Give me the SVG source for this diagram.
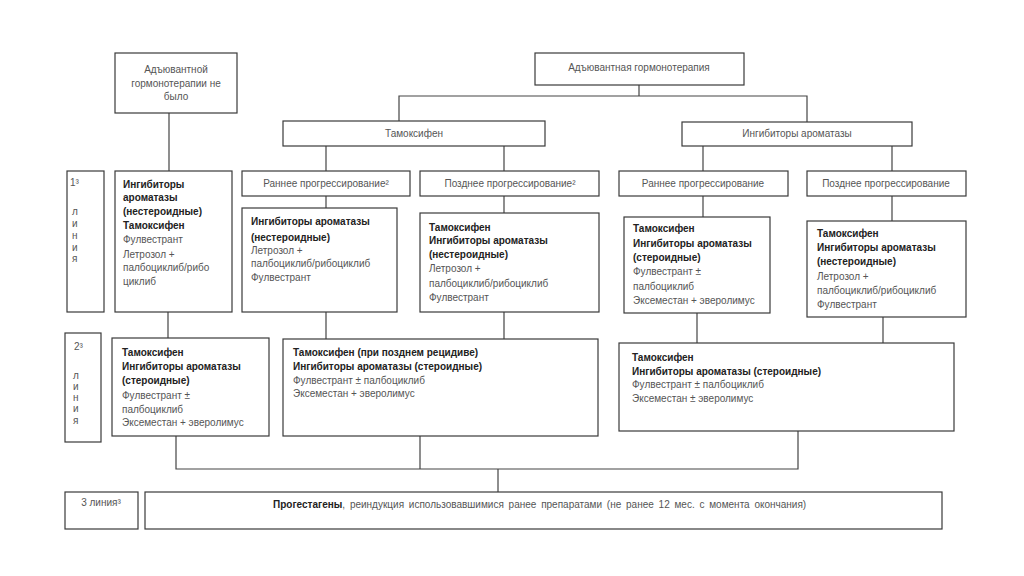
<svg xmlns="http://www.w3.org/2000/svg" width="1024" height="576" viewBox="0 0 1024 576">
<style>
.box{fill:#fff;stroke:#3a3a3a;stroke-width:1.2}
.c line,.c path{stroke:#444;stroke-width:1.2;fill:none}
text{font-family:"Liberation Sans",Arial,sans-serif;font-size:10px;fill:#555}
.b{font-weight:bold;fill:#222}
.m{text-anchor:middle}
</style>
<rect width="1024" height="576" fill="#fff"/>
<g class="c" id="connectors">
<line x1="169" y1="113" x2="169" y2="171"/>
<path d="M639 85V96M399 121V96H807V122"/>
<line x1="326" y1="146" x2="326" y2="171"/>
<line x1="504" y1="146" x2="504" y2="171"/>
<line x1="703" y1="146" x2="703" y2="171"/>
<line x1="892" y1="146" x2="892" y2="171"/>
<line x1="326" y1="196" x2="326" y2="208"/>
<line x1="504" y1="196" x2="504" y2="213"/>
<line x1="703" y1="196" x2="703" y2="217"/>
<line x1="892" y1="196" x2="892" y2="221"/>
<line x1="168" y1="312" x2="168" y2="338"/>
<line x1="326" y1="312" x2="326" y2="339"/>
<line x1="504" y1="312" x2="504" y2="339"/>
<line x1="697" y1="313" x2="697" y2="343"/>
<line x1="883" y1="317" x2="883" y2="343"/>
<path d="M176 436V469H798V431M420 436V469M498 469V492"/>
</g>
<g id="no-adjuvant"><rect class="box" x="115" y="53" width="122" height="60"/>
<text class="m" x="176" y="73">Адъювантной</text><text class="m" x="176" y="87">гормонотерапии не</text><text class="m" x="176" y="100">было</text></g>
<g id="adjuvant"><rect class="box" x="535" y="53" width="209" height="32"/><text class="m" x="639" y="71">Адъювантная гормонотерапия</text></g>
<g id="tamoxifen"><rect class="box" x="283" y="121" width="262" height="25"/><text class="m" x="414" y="137">Тамоксифен</text></g>
<g id="ai"><rect class="box" x="682" y="122" width="230" height="24"/><text class="m" x="797" y="137">Ингибиторы ароматазы</text></g>
<g id="line1-label"><rect class="box" x="67" y="171" width="37" height="141"/>
<text x="70" y="186">1³</text><text x="72" y="215">л</text><text x="72" y="227">и</text><text x="72" y="239">н</text><text x="72" y="251">и</text><text x="72" y="262">я</text></g>
<g id="t-early"><rect class="box" x="242" y="171" width="168" height="25"/><text class="m" x="326" y="187">Раннее прогрессирование²</text></g>
<g id="t-late"><rect class="box" x="420" y="171" width="179" height="25"/><text class="m" x="510" y="187">Позднее прогрессирование²</text></g>
<g id="ai-early"><rect class="box" x="619" y="171" width="169" height="25"/><text class="m" x="703" y="187">Раннее прогрессирование</text></g>
<g id="ai-late"><rect class="box" x="807" y="171" width="159" height="25"/><text class="m" x="886" y="187">Позднее прогрессирование</text></g>
<g id="n1-none"><rect class="box" x="115" y="171" width="117" height="141"/>
<text class="b" x="123" y="188">Ингибиторы</text><text class="b" x="123" y="201">ароматазы</text><text class="b" x="123" y="215">(нестероидные)</text><text class="b" x="123" y="229">Тамоксифен</text><text x="123" y="243">Фулвестрант</text><text x="123" y="258">Летрозол +</text><text x="123" y="271">палбоциклиб/рибо</text><text x="123" y="285">циклиб</text></g>
<g id="n1-t-early"><rect class="box" x="242" y="208" width="155" height="104"/>
<text class="b" x="251" y="225">Ингибиторы ароматазы</text><text class="b" x="251" y="241">(нестероидные)</text><text x="251" y="254">Летрозол +</text><text x="251" y="267">палбоциклиб/рибоциклиб</text><text x="251" y="281">Фулвестрант</text></g>
<g id="n1-t-late"><rect class="box" x="420" y="213" width="179" height="99"/>
<text class="b" x="429" y="231">Тамоксифен</text><text class="b" x="429" y="244">Ингибиторы ароматазы</text><text class="b" x="429" y="258">(нестероидные)</text><text x="429" y="272">Летрозол +</text><text x="429" y="287">палбоциклиб/рибоциклиб</text><text x="429" y="301">Фулвестрант</text></g>
<g id="n1-ai-early"><rect class="box" x="624" y="217" width="146" height="96"/>
<text class="b" x="633" y="232">Тамоксифен</text><text class="b" x="633" y="247">Ингибиторы ароматазы</text><text class="b" x="633" y="261">(стероидные)</text><text x="633" y="275">Фулвестрант  ±</text><text x="633" y="290">палбоциклиб</text><text x="633" y="304">Эксеместан + эверолимус</text></g>
<g id="n1-ai-late"><rect class="box" x="807" y="221" width="159" height="96"/>
<text class="b" x="817" y="237">Тамоксифен</text><text class="b" x="817" y="251">Ингибиторы ароматазы</text><text class="b" x="817" y="265">(нестероидные)</text><text x="817" y="280">Летрозол +</text><text x="817" y="294">палбоциклиб/рибоциклиб</text><text x="817" y="308">Фулвестрант</text></g>
<g id="line2-label"><rect class="box" x="65" y="333" width="36" height="109"/>
<text x="74" y="350">2³</text><text x="73" y="379">л</text><text x="73" y="390">и</text><text x="73" y="401">н</text><text x="73" y="412">и</text><text x="73" y="424">я</text></g>
<g id="n2-left"><rect class="box" x="112" y="338" width="157" height="98"/>
<text class="b" x="122" y="356">Тамоксифен</text><text class="b" x="122" y="370">Ингибиторы ароматазы</text><text class="b" x="122" y="384">(стероидные)</text><text x="122" y="399">Фулвестрант ±</text><text x="122" y="413">палбоциклиб</text><text x="122" y="426">Эксеместан + эверолимус</text></g>
<g id="n2-mid"><rect class="box" x="283" y="339" width="315" height="97"/>
<text class="b" x="293" y="356">Тамоксифен (при позднем рецидиве)</text><text class="b" x="293" y="370">Ингибиторы ароматазы (стероидные)</text><text x="293" y="384">Фулвестрант ± палбоциклиб</text><text x="293" y="397">Эксеместан + эверолимус</text></g>
<g id="n2-right"><rect class="box" x="619" y="343" width="335" height="88"/>
<text class="b" x="632" y="361">Тамоксифен</text><text class="b" x="632" y="375">Ингибиторы ароматазы (стероидные)</text><text x="632" y="388">Фулвестрант ± палбоциклиб</text><text x="632" y="402">Эксеместан ± эверолимус</text></g>
<g id="line3-label"><rect class="box" x="65" y="492" width="73" height="37"/><text class="m" x="101" y="506">3 линия³</text></g>
<g id="n3"><rect class="box" x="145" y="492" width="797" height="37"/>
<text x="273" y="508" word-spacing="2"><tspan class="b">Прогестагены</tspan>, реиндукция использовавшимися ранее препаратами (не ранее 12 мес. с момента окончания)</text></g>
</svg>
